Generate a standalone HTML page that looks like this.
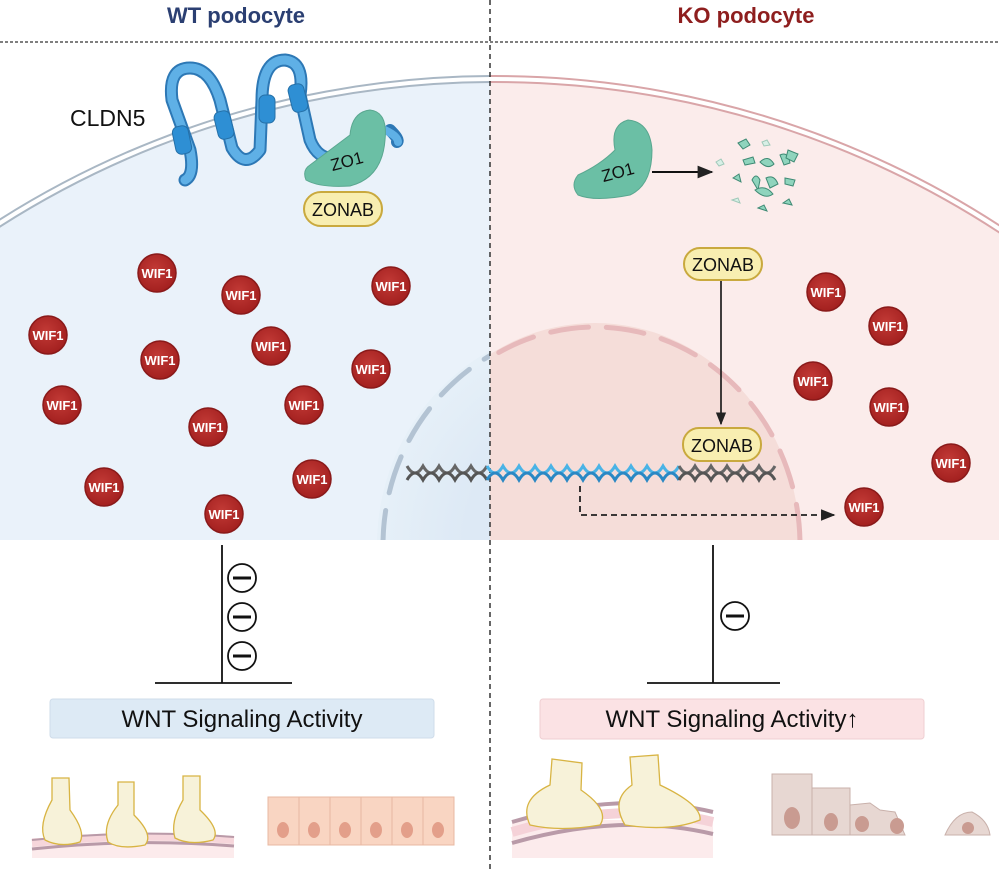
<!DOCTYPE html>
<html><head><meta charset="utf-8"><style>
html,body{margin:0;padding:0;background:#fff;width:999px;height:871px;overflow:hidden;}
svg{display:block;font-family:"Liberation Sans",sans-serif;}
</style></head><body>
<svg width="999" height="871" viewBox="0 0 999 871" xmlns="http://www.w3.org/2000/svg">
<defs>
<clipPath id="cellclip"><rect x="0" y="43" width="999" height="497"/></clipPath>
<clipPath id="lclip"><rect x="0" y="0" width="490" height="540"/></clipPath>
<clipPath id="rclip"><rect x="490" y="0" width="509" height="540"/></clipPath>
<radialGradient id="nucL" cx="0.5" cy="0.5" r="0.5"><stop offset="0.6" stop-color="#dde9f5"/><stop offset="1" stop-color="#e6f0f8"/></radialGradient>
<radialGradient id="wif" cx="0.45" cy="0.4" r="0.6"><stop offset="0" stop-color="#c23a36"/><stop offset="1" stop-color="#a3201f"/></radialGradient>
<marker id="ah" viewBox="0 0 10 10" refX="9" refY="5" markerWidth="8" markerHeight="8" orient="auto"><path d="M0,1 L10,5 L0,9 z" fill="#222"/></marker>
</defs>

<g clip-path="url(#cellclip)">
  <g clip-path="url(#lclip)">
    <circle cx="495" cy="1002" r="920" fill="#eaf2fa"/>
    <circle cx="495" cy="1002" r="920" fill="none" stroke="#a9b7c4" stroke-width="2"/>
    <circle cx="495" cy="1002" r="926" fill="none" stroke="#a9b7c4" stroke-width="2"/>
    <ellipse cx="595" cy="545" rx="218" ry="222" fill="url(#nucL)"/>
  </g>
  <g clip-path="url(#rclip)">
    <circle cx="495" cy="1002" r="920" fill="#fbeceb"/>
    <circle cx="495" cy="1002" r="920" fill="none" stroke="#d9a5a8" stroke-width="2"/>
    <circle cx="495" cy="1002" r="926" fill="none" stroke="#d9a5a8" stroke-width="2"/>
    <ellipse cx="595" cy="545" rx="205" ry="222" fill="#f5ddd9"/>
  </g>
  <g clip-path="url(#lclip)"><ellipse cx="595" cy="545" rx="212" ry="218" fill="none" stroke="#b3c3d3" stroke-width="5" stroke-dasharray="38 18" stroke-linecap="round"/></g>
  <g clip-path="url(#rclip)"><ellipse cx="595" cy="545" rx="205" ry="218" fill="none" stroke="#e7b9bb" stroke-width="5" stroke-dasharray="38 18" stroke-linecap="round"/></g>
</g>

<line x1="0" y1="42" x2="999" y2="42" stroke="#333" stroke-width="1.2" stroke-dasharray="3 2"/>
<line x1="490" y1="0" x2="490" y2="871" stroke="#333" stroke-width="1.5" stroke-dasharray="5 4"/>

<text x="236" y="23" text-anchor="middle" font-size="22" font-weight="bold" fill="#2b3f72">WT podocyte</text>
<text x="746" y="23" text-anchor="middle" font-size="22" font-weight="bold" fill="#8e1e1e">KO podocyte</text>

<text x="70" y="126" font-size="23" fill="#111">CLDN5</text>
<path d="M185,180 Q195,175 190,150 L172,100 Q168,68 190,68 Q210,68 220,100 L232,148 Q245,170 260,150 L262,100 Q262,60 285,60 Q305,62 300,95 L310,140 Q318,160 335,158" fill="none" stroke="#2d78b5" stroke-width="13" stroke-linecap="round" stroke-linejoin="round"/>
<path d="M185,180 Q195,175 190,150 L172,100 Q168,68 190,68 Q210,68 220,100 L232,148 Q245,170 260,150 L262,100 Q262,60 285,60 Q305,62 300,95 L310,140 Q318,160 335,158" fill="none" stroke="#5fb0e6" stroke-width="9" stroke-linecap="round" stroke-linejoin="round"/>
<path d="M390,130 Q400,140 397,142" fill="none" stroke="#2d78b5" stroke-width="12" stroke-linecap="round"/>
<path d="M380,128 Q398,135 398,142" fill="none" stroke="#5fb0e6" stroke-width="8" stroke-linecap="round"/>
<g fill="#2e8fd4" stroke="#2570a8" stroke-width="1">
<rect x="174" y="126" width="16" height="28" rx="6" transform="rotate(-12 182 140)"/>
<rect x="216" y="111" width="16" height="28" rx="6" transform="rotate(-14 224 125)"/>
<rect x="259" y="95" width="16" height="28" rx="6"/>
<rect x="290" y="84" width="16" height="28" rx="6" transform="rotate(-14 298 98)"/>
</g>
<path d="M310,165 Q330,150 350,135 Q352,112 370,110 Q388,112 385,140 Q382,178 350,186 Q320,188 306,180 Q302,170 310,165 z" fill="#6bbfa5" stroke="#5aa790" stroke-width="1"/>
<text x="347" y="167" font-size="17" fill="#111" text-anchor="middle" transform="rotate(-15 347 162)">ZO1</text>
<rect x="304" y="192" width="78" height="34" rx="17" fill="#f8eeb1" stroke="#c9a93e" stroke-width="2"/>
<text x="343" y="216" font-size="18" text-anchor="middle" fill="#111">ZONAB</text>

<path d="M578,175 Q600,165 615,150 Q610,125 628,120 Q650,122 652,150 Q652,185 630,195 Q595,202 578,195 Q570,185 578,175 z" fill="#6bbfa5" stroke="#5aa790" stroke-width="1"/>
<text x="618" y="178" font-size="17" fill="#111" text-anchor="middle" transform="rotate(-15 618 173)">ZO1</text>
<line x1="652" y1="172" x2="712" y2="172" stroke="#111" stroke-width="2" marker-end="url(#ah)"/>
<g fill="#8fd4bd" stroke="#3e8a74" stroke-width="1">
<path d="M738,143 l8,-4 l4,6 l-7,4z"/><path d="M743,160 l10,-3 l2,6 l-10,2z"/><path d="M760,162 q8,-8 14,2 q-6,6 -14,-2z"/>
<path d="M780,155 q8,-4 10,8 l-6,2z"/><path d="M788,150 l10,4 l-4,8 l-8,-4z"/><path d="M752,180 q4,-8 8,0 l-2,10z"/>
<path d="M766,178 q8,-4 12,6 l-8,4z"/><path d="M785,178 l10,2 l-2,6 l-8,-2z"/><path d="M733,178 l6,-4 l2,8z"/>
<path d="M755,190 q10,-6 18,4 q-8,6 -18,-4z"/><path d="M783,203 l6,-4 l3,6z"/><path d="M758,208 l6,-3 l3,6z"/>
</g>
<g fill="#d8efe6" stroke="#9fc9b9" stroke-width="1"><path d="M716,162 l5,-3 l3,5 l-5,2z"/><path d="M762,142 l5,-2 l3,5 l-6,1z"/><path d="M732,200 l6,-2 l2,5z"/></g>

<rect x="684" y="248" width="78" height="32" rx="16" fill="#f8eeb1" stroke="#c9a93e" stroke-width="2"/>
<text x="723" y="271" font-size="18" text-anchor="middle" fill="#111">ZONAB</text>
<line x1="721" y1="281" x2="721" y2="424" stroke="#111" stroke-width="1.6" marker-end="url(#ah)"/>
<rect x="683" y="428" width="78" height="33" rx="16" fill="#f8eeb1" stroke="#c9a93e" stroke-width="2"/>
<text x="722" y="452" font-size="18" text-anchor="middle" fill="#111">ZONAB</text>

<g fill="none" stroke-width="3">
<path d="M407,466 q8,14 16,0 q8,14 16,0 q8,14 16,0 q8,14 16,0 q8,14 16,0" stroke="#666"/>
<path d="M407,480 q8,-14 16,0 q8,-14 16,0 q8,-14 16,0 q8,-14 16,0 q8,-14 16,0" stroke="#555"/>
<path d="M487,466 q8,14 16,0 q8,14 16,0 q8,14 16,0 q8,14 16,0 q8,14 16,0 q8,14 16,0 q8,14 16,0 q8,14 16,0 q8,14 16,0 q8,14 16,0 q8,14 16,0 q8,14 16,0" stroke="#49b3e6"/>
<path d="M487,480 q8,-14 16,0 q8,-14 16,0 q8,-14 16,0 q8,-14 16,0 q8,-14 16,0 q8,-14 16,0 q8,-14 16,0 q8,-14 16,0 q8,-14 16,0 q8,-14 16,0 q8,-14 16,0 q8,-14 16,0" stroke="#2a88c4"/>
<path d="M679,466 q8,14 16,0 q8,14 16,0 q8,14 16,0 q8,14 16,0 q8,14 16,0 q8,14 16,0" stroke="#666"/>
<path d="M679,480 q8,-14 16,0 q8,-14 16,0 q8,-14 16,0 q8,-14 16,0 q8,-14 16,0 q8,-14 16,0" stroke="#555"/>
</g>
<path d="M580,486 L580,515 L834,515" fill="none" stroke="#222" stroke-width="1.8" stroke-dasharray="6 4" marker-end="url(#ah)"/>

<g stroke="#8a1a1a" stroke-width="1.5" fill="url(#wif)">
<circle cx="157" cy="273" r="19"/><circle cx="241" cy="295" r="19"/><circle cx="391" cy="286" r="19"/>
<circle cx="48" cy="335" r="19"/><circle cx="271" cy="346" r="19"/><circle cx="160" cy="360" r="19"/>
<circle cx="371" cy="369" r="19"/><circle cx="62" cy="405" r="19"/><circle cx="304" cy="405" r="19"/>
<circle cx="208" cy="427" r="19"/><circle cx="104" cy="487" r="19"/><circle cx="312" cy="479" r="19"/>
<circle cx="224" cy="514" r="19"/>
<circle cx="826" cy="292" r="19"/><circle cx="888" cy="326" r="19"/><circle cx="813" cy="381" r="19"/>
<circle cx="889" cy="407" r="19"/><circle cx="951" cy="463" r="19"/><circle cx="864" cy="507" r="19"/>
</g>
<g font-size="13" font-weight="bold" fill="#fff" text-anchor="middle">
<text x="157" y="278">WIF1</text><text x="241" y="300">WIF1</text><text x="391" y="291">WIF1</text>
<text x="48" y="340">WIF1</text><text x="271" y="351">WIF1</text><text x="160" y="365">WIF1</text>
<text x="371" y="374">WIF1</text><text x="62" y="410">WIF1</text><text x="304" y="410">WIF1</text>
<text x="208" y="432">WIF1</text><text x="104" y="492">WIF1</text><text x="312" y="484">WIF1</text>
<text x="224" y="519">WIF1</text>
<text x="826" y="297">WIF1</text><text x="888" y="331">WIF1</text><text x="813" y="386">WIF1</text>
<text x="889" y="412">WIF1</text><text x="951" y="468">WIF1</text><text x="864" y="512">WIF1</text>
</g>

<g stroke="#111" stroke-width="1.8" fill="none">
<line x1="222" y1="545" x2="222" y2="683"/><line x1="155" y1="683" x2="292" y2="683"/>
<line x1="713" y1="545" x2="713" y2="683"/><line x1="647" y1="683" x2="780" y2="683"/>
<circle cx="242" cy="578" r="14"/><circle cx="242" cy="617" r="14"/><circle cx="242" cy="656" r="14"/>
<circle cx="735" cy="616" r="14"/>
</g>
<g stroke="#111" stroke-width="3">
<line x1="233" y1="578" x2="251" y2="578"/><line x1="233" y1="617" x2="251" y2="617"/><line x1="233" y1="656" x2="251" y2="656"/>
<line x1="726" y1="616" x2="744" y2="616"/>
</g>
<rect x="50" y="699" width="384" height="39" rx="3" fill="#ddeaf5" stroke="#cfdcea"/>
<text x="242" y="727" font-size="24" text-anchor="middle" fill="#111">WNT Signaling Activity</text>
<rect x="540" y="699" width="384" height="40" rx="3" fill="#fbe2e4" stroke="#efcfd2"/>
<text x="732" y="727" font-size="24" text-anchor="middle" fill="#111">WNT Signaling Activity↑</text>

<rect x="32" y="838" width="202" height="20" fill="#fcebec"/>
<path d="M32,843 Q133,832 234,840" stroke="#f6d6db" stroke-width="8" fill="none"/>
<path d="M32,849 Q133,838 234,846" stroke="#b99aa8" stroke-width="3" fill="none"/>
<path d="M32,840 Q133,829 234,837" stroke="#b99aa8" stroke-width="2" fill="none"/>
<g fill="#f7f2d9" stroke="#d8b443" stroke-width="1.3">
<path d="M52,778 L69,778 L70,810 Q86,832 80,842 Q60,848 45,840 Q38,825 52,800z"/>
<path d="M118,782 L134,782 L134,815 Q154,835 145,845 Q120,850 108,842 Q102,825 118,805z"/>
<path d="M183,776 L200,776 L200,810 Q221,830 213,840 Q190,846 175,838 Q170,822 183,800z"/>
</g>
<g fill="#f9d5c2" stroke="#e8b8a2" stroke-width="1">
<rect x="268" y="797" width="31" height="48"/><rect x="299" y="797" width="31" height="48"/><rect x="330" y="797" width="31" height="48"/>
<rect x="361" y="797" width="31" height="48"/><rect x="392" y="797" width="31" height="48"/><rect x="423" y="797" width="31" height="48"/>
</g>
<g fill="#e39f8a"><ellipse cx="283" cy="830" rx="6" ry="8"/><ellipse cx="314" cy="830" rx="6" ry="8"/><ellipse cx="345" cy="830" rx="6" ry="8"/><ellipse cx="376" cy="830" rx="6" ry="8"/><ellipse cx="407" cy="830" rx="6" ry="8"/><ellipse cx="438" cy="830" rx="6" ry="8"/></g>

<rect x="512" y="820" width="201" height="38" fill="#fcebec"/>
<path d="M512,822 Q620,790 713,812" stroke="#b99aa8" stroke-width="4" fill="none"/>
<path d="M512,832 Q620,800 713,822" stroke="#f5d2d8" stroke-width="10" fill="none"/>
<path d="M512,843 Q620,812 713,834" stroke="#b99aa8" stroke-width="4" fill="none"/>
<g fill="#f7f2d9" stroke="#d8b443" stroke-width="1.3">
<path d="M552,759 L582,763 L581,790 Q610,810 600,825 Q560,832 530,825 Q518,800 550,785z"/>
<path d="M630,757 L658,755 L660,785 Q702,805 700,820 Q670,832 625,825 Q610,800 632,785z"/>
</g>
<g fill="#e7d7d2" stroke="#c9b1ab" stroke-width="1">
<path d="M772,774 L812,774 L812,835 L772,835z"/>
<path d="M812,788 L850,788 L850,835 L812,835z"/>
<path d="M850,805 L870,803 L880,810 L895,812 L905,835 L850,835z"/>
<path d="M945,835 Q955,812 972,812 Q988,820 990,835z"/>
</g>
<g fill="#c99b91"><ellipse cx="792" cy="818" rx="8" ry="11"/><ellipse cx="831" cy="822" rx="7" ry="9"/><ellipse cx="862" cy="824" rx="7" ry="8"/><ellipse cx="897" cy="826" rx="7" ry="8"/><ellipse cx="968" cy="828" rx="6" ry="6"/></g>
</svg>
</body></html>
